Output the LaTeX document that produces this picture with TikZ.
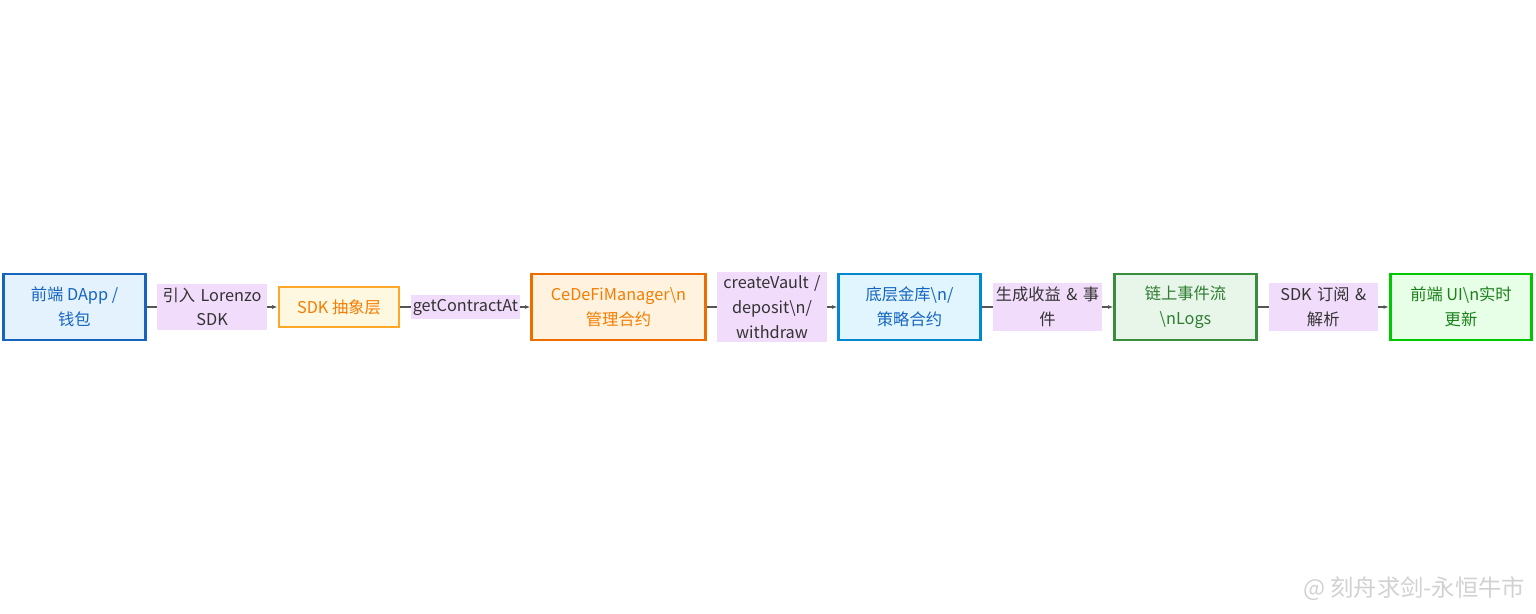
\documentclass[tikz,border=0pt]{standalone}
\usepackage{fontspec}
\setmainfont{Noto Sans CJK SC}
\usetikzlibrary{arrows.meta}

\definecolor{dappfill}{HTML}{E3F2FD}
\definecolor{dappline}{HTML}{1565C0}
\definecolor{sdkfill}{HTML}{FFF8E1}
\definecolor{sdkline}{HTML}{FFA726}
\definecolor{sdktext}{HTML}{F57C00}
\definecolor{mgrfill}{HTML}{FFF3E0}
\definecolor{mgrline}{HTML}{EF6C00}
\definecolor{vaultfill}{HTML}{E1F5FE}
\definecolor{vaultline}{HTML}{0288D1}
\definecolor{logfill}{HTML}{E8F5E9}
\definecolor{logline}{HTML}{388E3C}
\definecolor{logtext}{HTML}{2E7D32}
\definecolor{uifill}{HTML}{E6FFE6}
\definecolor{uiline}{HTML}{00C800}
\definecolor{uitext}{HTML}{1B7F1B}
\definecolor{lblfill}{HTML}{F2DCFB}
\definecolor{lbltext}{HTML}{333333}
\definecolor{arrline}{HTML}{555555}

\begin{document}
\begin{tikzpicture}[
  x=0.75pt, y=-0.75pt,
  stage/.style = {draw, line width=2.2pt, minimum width=106pt,
                  minimum height=49.5pt, align=center, inner sep=2pt,
                  font=\fontsize{12.2}{18.5}\selectfont},
  flow/.style  = {-{Latex[length=4pt,width=3pt]}, line width=0.8pt, arrline},
  lbl/.style   = {fill=lblfill, text=lbltext, text width=79pt,
                  inner xsep=1.5pt, inner ysep=3pt, align=center,
                  font=\fontsize{12.2}{18.5}\selectfont},
]
\useasboundingbox (0,0) rectangle (1536,614);

% the six stages, left to right
\node[stage, fill=dappfill, draw=dappline, text=dappline] (dapp) at (74.5,307)
  {前端 DApp /\\钱包};
\node[stage, fill=sdkfill, draw=sdkline, text=sdktext,
      minimum width=90pt, minimum height=30pt] (sdk) at (339,307)
  {SDK 抽象层};
\node[stage, fill=mgrfill, draw=mgrline, text=sdktext,
      minimum width=130pt] (mgr) at (618.5,307)
  {CeDeFiManager\textbackslash n\\管理合约};
\node[stage, fill=vaultfill, draw=vaultline, text=dappline] (vault) at (909.5,307)
  {底层金库\textbackslash n/\\策略合约};
\node[stage, fill=logfill, draw=logline, text=logtext] (logs) at (1185.5,307)
  {链上事件流\\\textbackslash nLogs};
\node[stage, fill=uifill, draw=uiline, text=uitext] (ui) at (1461,307)
  {前端 UI\textbackslash n实时\\更新};

% connectors with their labels
\draw[flow] (dapp.east) -- node[lbl] {引入 Lorenzo\\SDK} (sdk.west);
\draw[flow] (sdk.east) -- node[lbl] {getContractAt} (mgr.west);
\draw[flow] (mgr.east) -- node[lbl]
  {createVault /\\deposit\textbackslash n/\\withdraw} (vault.west);
\draw[flow] (vault.east) -- node[lbl] {生成收益 \& 事\\件} (logs.west);
\draw[flow] (logs.east) -- node[lbl] {SDK 订阅 \&\\解析} (ui.west);

% watermark
\node[text=black!18, font=\fontsize{17.5}{20}\selectfont, anchor=east]
  (mark) at (1530,589) {@ 刻舟求剑-永恒牛市};

\end{tikzpicture}
\end{document}
